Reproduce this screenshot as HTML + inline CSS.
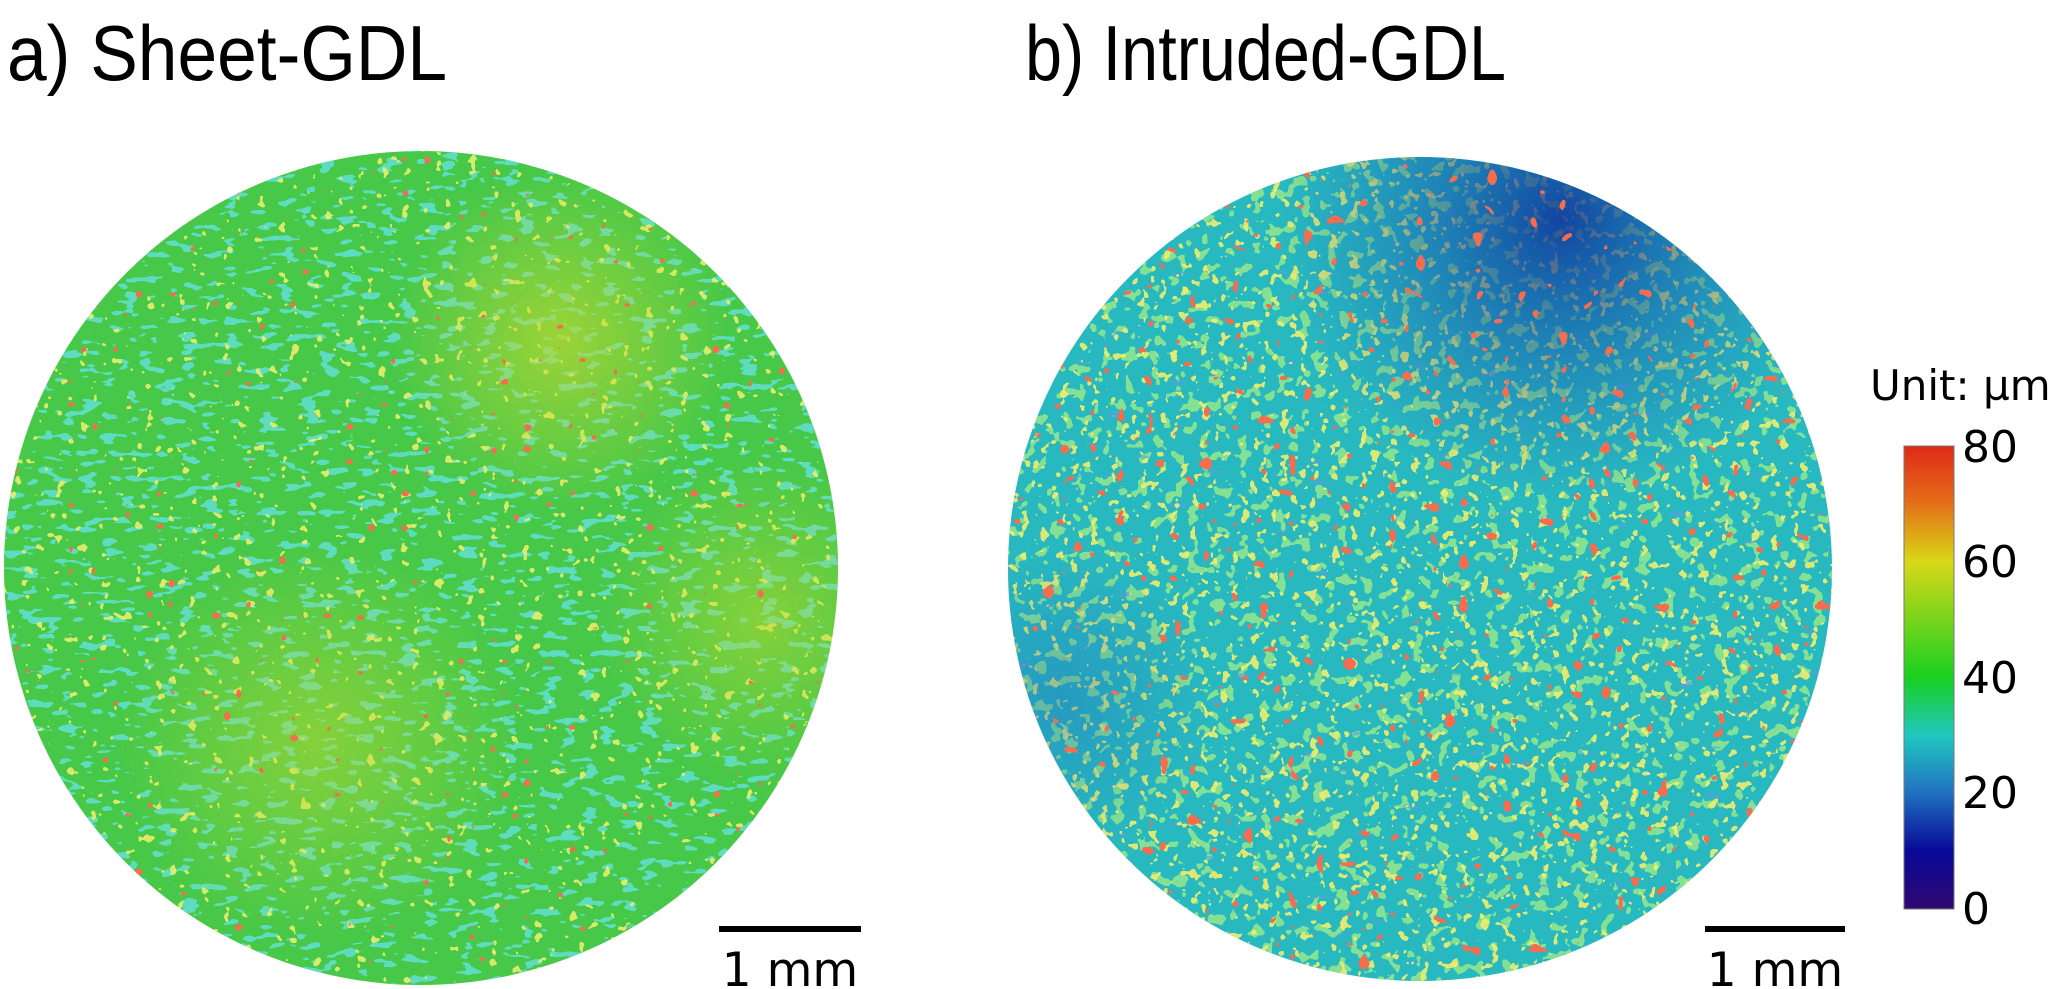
<!DOCTYPE html>
<html><head><meta charset="utf-8"><style>
html,body{margin:0;padding:0;background:#fff;}
svg{display:block;}
</style></head><body>
<svg width="2069" height="989" viewBox="0 0 2069 989" xmlns="http://www.w3.org/2000/svg">
<defs>
<clipPath id="ca"><circle cx="421" cy="568" r="417"/></clipPath>
<clipPath id="cb"><circle cx="1420" cy="569" r="412"/></clipPath>
<radialGradient id="ya" cx="560" cy="340" r="170" gradientUnits="userSpaceOnUse"><stop offset="0" stop-color="#c0d830" stop-opacity="0.7"/><stop offset="1" stop-color="#c0d830" stop-opacity="0"/></radialGradient>
<radialGradient id="ya2" cx="320" cy="740" r="200" gradientUnits="userSpaceOnUse"><stop offset="0" stop-color="#b8d830" stop-opacity="0.55"/><stop offset="1" stop-color="#b8d830" stop-opacity="0"/></radialGradient>
<radialGradient id="ya3" cx="760" cy="620" r="160" gradientUnits="userSpaceOnUse"><stop offset="0" stop-color="#b8d830" stop-opacity="0.55"/><stop offset="1" stop-color="#b8d830" stop-opacity="0"/></radialGradient>
<radialGradient id="bb" cx="1560" cy="220" r="280" gradientUnits="userSpaceOnUse"><stop offset="0" stop-color="#0c2898" stop-opacity="0.8"/><stop offset="1" stop-color="#1a60c0" stop-opacity="0"/></radialGradient>
<radialGradient id="bb2" cx="1060" cy="700" r="150" gradientUnits="userSpaceOnUse"><stop offset="0" stop-color="#2060c0" stop-opacity="0.35"/><stop offset="1" stop-color="#2060c0" stop-opacity="0"/></radialGradient>
<linearGradient id="cbar" x1="0" y1="0" x2="0" y2="1">
<stop offset="0" stop-color="#e02818"/><stop offset="0.125" stop-color="#e47018"/><stop offset="0.25" stop-color="#d8d818"/><stop offset="0.5" stop-color="#18d020"/><stop offset="0.625" stop-color="#20c8c0"/><stop offset="0.75" stop-color="#2070c0"/><stop offset="0.875" stop-color="#080898"/><stop offset="1" stop-color="#300870"/>
</linearGradient>
<filter id="fy" filterUnits="userSpaceOnUse" x="0" y="0" width="2069" height="989"><feTurbulence type="fractalNoise" baseFrequency="0.09" numOctaves="2" seed="3"/><feColorMatrix type="matrix" values="0 0 0 0 0.82  0 0 0 0 0.85  0 0 0 0 0.15  1 0 0 0 0"/><feComponentTransfer><feFuncA type="discrete" tableValues="0 0 0 0 0 0.9 0.9"/></feComponentTransfer></filter>
<filter id="fc" filterUnits="userSpaceOnUse" x="0" y="0" width="2069" height="989"><feTurbulence type="fractalNoise" baseFrequency="0.05 0.12" numOctaves="2" seed="9"/><feColorMatrix type="matrix" values="0 0 0 0 0.12  0 0 0 0 0.75  0 0 0 0 0.72  0 1 0 0 0"/><feComponentTransfer><feFuncA type="discrete" tableValues="0 0 0 0 0 0.8 0.8 0.8"/></feComponentTransfer></filter>
<filter id="fg" filterUnits="userSpaceOnUse" x="0" y="0" width="2069" height="989"><feTurbulence type="fractalNoise" baseFrequency="0.08" numOctaves="2" seed="5"/><feColorMatrix type="matrix" values="0 0 0 0 0.3  0 0 0 0 0.8  0 0 0 0 0.25  1 0 0 0 0"/><feComponentTransfer><feFuncA type="discrete" tableValues="0 0 0 0 0 0.85 0.85 0.85"/></feComponentTransfer></filter>
<filter id="fy2" filterUnits="userSpaceOnUse" x="0" y="0" width="2069" height="989"><feTurbulence type="fractalNoise" baseFrequency="0.1" numOctaves="2" seed="11"/><feColorMatrix type="matrix" values="0 0 0 0 0.88  0 0 0 0 0.85  0 0 0 0 0.15  0 0 1 0 0"/><feComponentTransfer><feFuncA type="discrete" tableValues="0 0 0 0 0 0 0.9 0.9 0.9"/></feComponentTransfer></filter>
<filter id="fr" filterUnits="userSpaceOnUse" x="0" y="0" width="2069" height="989"><feTurbulence type="fractalNoise" baseFrequency="0.07" numOctaves="1" seed="21"/><feColorMatrix type="matrix" values="0 0 0 0 0.92  0 0 0 0 0.15  0 0 0 0 0.08  1 0 0 0 0"/><feComponentTransfer><feFuncA type="discrete" tableValues="0 0 0 0 0 0 0 0 0 0 0 0 0 0 1 1 1 1 1 1"/></feComponentTransfer></filter>
<filter id="fr2" filterUnits="userSpaceOnUse" x="0" y="0" width="2069" height="989"><feTurbulence type="fractalNoise" baseFrequency="0.09" numOctaves="1" seed="23"/><feColorMatrix type="matrix" values="0 0 0 0 0.92  0 0 0 0 0.15  0 0 0 0 0.08  1 0 0 0 0"/><feComponentTransfer><feFuncA type="discrete" tableValues="0 0 0 0 0 0 0 0 0 0 0 0 0 0 0 1 1 1 1 1"/></feComponentTransfer></filter>
<filter id="fbl" filterUnits="userSpaceOnUse" x="0" y="0" width="2069" height="989"><feTurbulence type="fractalNoise" baseFrequency="0.03 0.1" numOctaves="2" seed="31"/><feColorMatrix type="matrix" values="0 0 0 0 0.1  0 0 0 0 0.35  0 0 0 0 0.75  1 0 0 0 0"/><feComponentTransfer><feFuncA type="discrete" tableValues="0 0 0 0 0 0 0 0.6 0.6"/></feComponentTransfer></filter>
</defs>

<g clip-path="url(#ca)">
<rect x="0" y="140" width="850" height="850" fill="#48c848"/>
<rect x="0" y="140" width="850" height="850" filter="url(#fc)"/>
<rect x="0" y="140" width="850" height="850" filter="url(#fy)"/>
<rect x="0" y="140" width="850" height="850" fill="url(#ya)"/>
<rect x="0" y="140" width="850" height="850" fill="url(#ya2)"/>
<rect x="0" y="140" width="850" height="850" fill="url(#ya3)"/>
<rect x="0" y="140" width="850" height="850" filter="url(#fr2)"/>
</g>

<g clip-path="url(#cb)">
<rect x="1000" y="150" width="840" height="840" fill="#28b8c0"/>
<rect x="1000" y="150" width="840" height="840" filter="url(#fg)"/>
<rect x="1000" y="150" width="840" height="840" filter="url(#fbl)"/>
<rect x="1000" y="150" width="840" height="840" filter="url(#fy2)"/>
<rect x="1000" y="150" width="840" height="840" fill="url(#bb)"/>
<rect x="1000" y="150" width="840" height="840" fill="url(#bb2)"/>
<rect x="1000" y="150" width="840" height="840" filter="url(#fr)"/>
</g>

<g font-family="Liberation Sans, Arial, sans-serif" fill="#000">
<text x="7" y="80" font-size="78" textLength="440" lengthAdjust="spacingAndGlyphs">a) Sheet-GDL</text>
<text x="1025" y="80" font-size="78" textLength="481" lengthAdjust="spacingAndGlyphs">b) Intruded-GDL</text>
</g>

<rect x="719" y="926" width="142" height="6" fill="#000"/>
<rect x="1705" y="926" width="140" height="6" fill="#000"/>
<g font-family="DejaVu Sans, sans-serif" fill="#000" font-size="47">
<text x="790" y="986" text-anchor="middle">1 mm</text>
<text x="1775" y="986" text-anchor="middle">1 mm</text>
</g>

<rect x="1904" y="446" width="50" height="463" fill="url(#cbar)" stroke="#777" stroke-width="1"/>
<g font-family="DejaVu Sans, sans-serif" fill="#000" font-size="44">
<text x="1870" y="400" font-size="42">Unit: µm</text>
<text x="1962" y="462">80</text>
<text x="1962" y="577">60</text>
<text x="1962" y="693">40</text>
<text x="1962" y="808">20</text>
<text x="1962" y="924">0</text>
</g>
</svg>
</body></html>
